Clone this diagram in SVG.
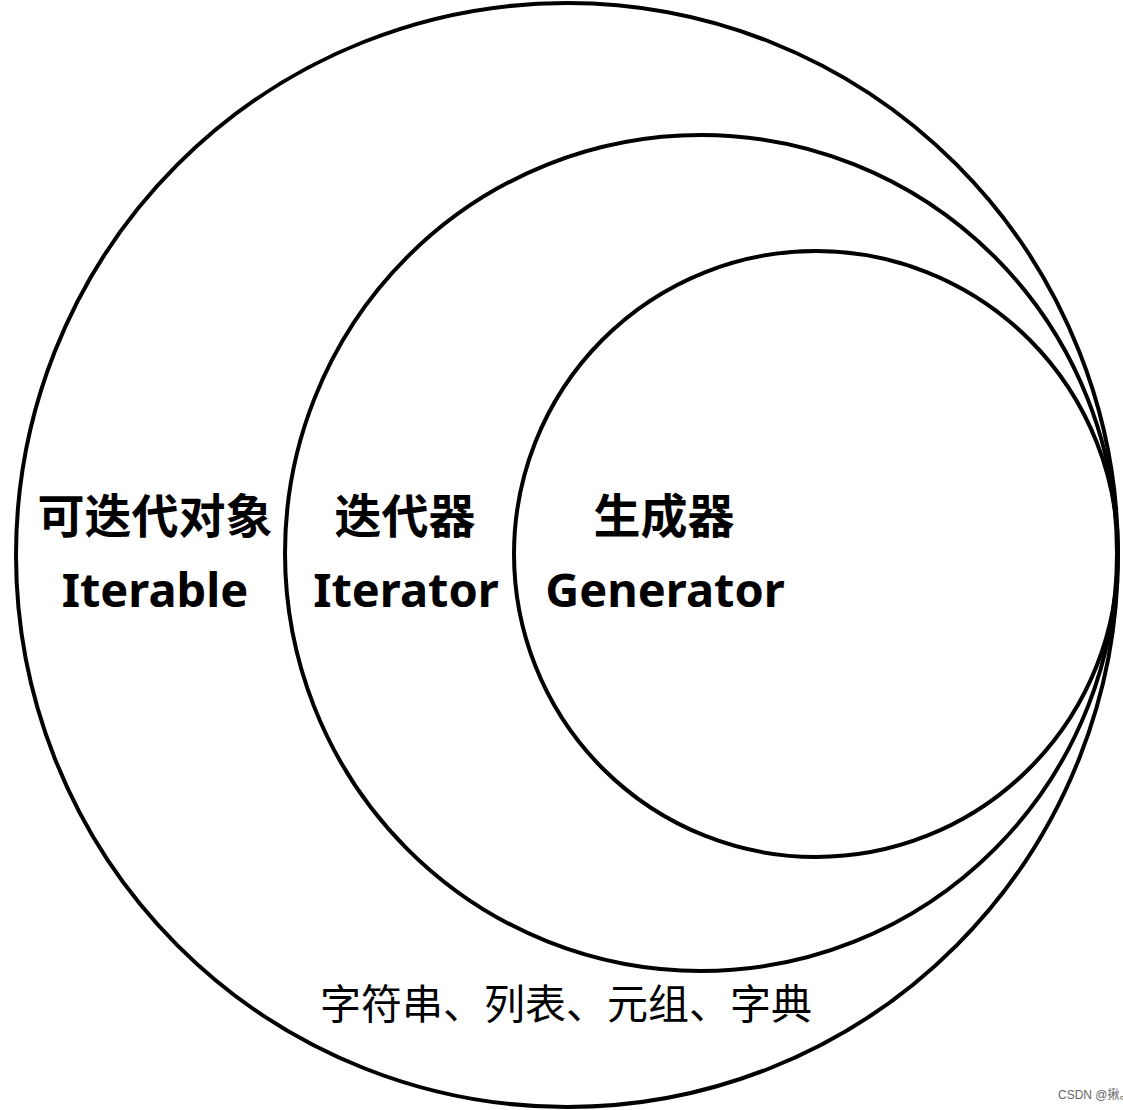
<svg xmlns="http://www.w3.org/2000/svg" width="1123" height="1110" viewBox="0 0 1123 1110">
<style>
.c{fill:none;stroke:#000;stroke-width:4}
.t{font-family:"Noto Sans","Noto Sans CJK SC",sans-serif;font-weight:bold;font-size:47px;text-anchor:middle;fill:#000}
.b{font-family:"Noto Sans CJK SC",sans-serif;font-size:41px;text-anchor:middle;fill:#000}
.w{font-family:"Liberation Sans","Noto Sans CJK SC",sans-serif;font-size:12px;fill:#666}
</style>
<rect width="1123" height="1110" fill="#fff"/>
<g id="iterable"><ellipse class="c" cx="567" cy="555" rx="551" ry="552"/>
<text class="t" x="155" y="533">可迭代对象</text><text class="t" x="155" y="607">Iterable</text>
<text class="b" x="566" y="1019">字符串、列表、元组、字典</text></g>
<g id="iterator"><ellipse class="c" cx="701" cy="553" rx="416" ry="418"/>
<text class="t" x="405" y="533">迭代器</text><text class="t" x="406" y="607">Iterator</text></g>
<g id="generator"><ellipse class="c" cx="816" cy="554" rx="302" ry="303"/>
<text class="t" x="664" y="533">生成器</text><text class="t" x="665" y="607">Generator</text></g>
<g id="connectors"/>
<text class="w" x="1058" y="1099">CSDN @揪。</text>
</svg>
